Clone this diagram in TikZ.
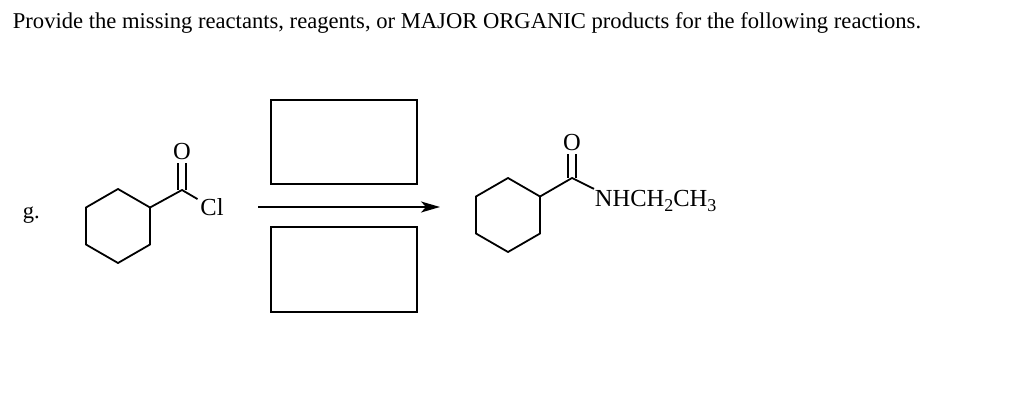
\documentclass[tikz,border=0pt]{standalone}
\usepackage{fontspec}
\setmainfont{Liberation Serif}
\usetikzlibrary{arrows.meta}
\newcommand\chsub[1]{\raisebox{-5pt}{\fontsize{18}{18}\selectfont#1}}

\begin{document}
\begin{tikzpicture}[x=1pt,y=-1pt,line width=1.8pt,font=\fontsize{22.6}{27}\selectfont,
    atom/.style={inner sep=2pt,font=\fontsize{24.5}{29}\selectfont},
    answerbox/.style={draw,minimum width=146pt,minimum height=84pt,inner sep=0pt}]
    \useasboundingbox[fill=white] (0,0) rectangle (1024,401);
    \node[anchor=base west,inner sep=0pt] (title) at (12,29)
        {Provide the missing reactants, reagents, or MAJOR ORGANIC products for the following reactions.};
    \node[anchor=base west,inner sep=0pt] (part) at (22,218) {g.};
    \coordinate (ring1) at (118,226);
    \foreach \i in {0,...,5}
        \coordinate (ring1v\i) at ([shift={(-90+60*\i:37)}]ring1);
    \draw[line join=round] (ring1v0) -- (ring1v1) -- (ring1v2) -- (ring1v3) -- (ring1v4) -- (ring1v5) -- cycle;
    \coordinate (acyl) at (182,190);
    \node[atom] (acylO) at (182,152) {O};
    \node[atom] (acylCl) at (212,207.5) {Cl};
    \draw[line join=round] (ring1v1) -- (acyl) -- (acylCl);
    \draw ([xshift=-3.7pt]acylO.south) -- ([xshift=-3.7pt]acyl);
    \draw ([xshift=3.7pt]acylO.south) -- ([xshift=3.7pt]acyl);
    \node[answerbox] (reagent1) at (344,142) {};
    \node[answerbox,minimum height=85pt] (reagent2) at (344,269.5) {};
    \coordinate (arrowstart) at (258,207);
    \coordinate (arrowend) at (440,207);
    \draw[-{Stealth[length=19pt,width=11pt,inset=5pt]}] (arrowstart) -- (arrowend);
    \coordinate (ring2) at (508,215);
    \foreach \i in {0,...,5}
        \coordinate (ring2v\i) at ([shift={(-90+60*\i:37)}]ring2);
    \draw[line join=round] (ring2v0) -- (ring2v1) -- (ring2v2) -- (ring2v3) -- (ring2v4) -- (ring2v5) -- cycle;
    \coordinate (amide) at (572,178);
    \node[atom] (amideO) at (572,143) {O};
    \node[atom,anchor=base west,inner sep=0pt] (amideN) at (594,206) {NHCH\chsub{2}CH\chsub{3}};
    \draw[line join=round] (ring2v1) -- (amide) -- (amideN.north west);
    \draw ([xshift=-3.7pt]amideO.south) -- ([xshift=-3.7pt]amide);
    \draw ([xshift=3.7pt]amideO.south) -- ([xshift=3.7pt]amide);
\end{tikzpicture}
\end{document}
